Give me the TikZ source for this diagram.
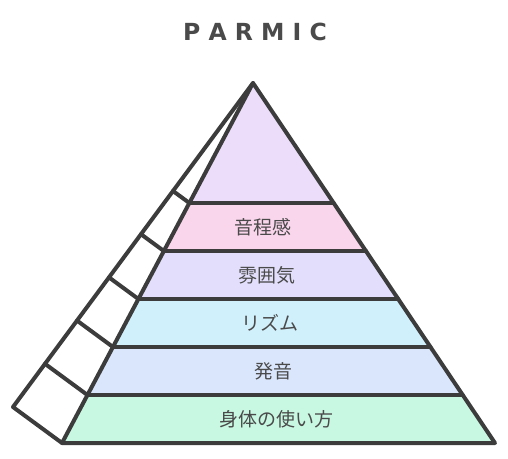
\documentclass[tikz,border=0pt]{standalone}
\usepackage{fontspec}
\usepackage{tikz}
\usetikzlibrary{calc}
\newfontfamily\jpfont{Noto Sans CJK JP}
\newfontfamily\titlefont{DejaVu Sans}
\definecolor{EdgeGray}{HTML}{3C3C3C}
\definecolor{TextGray}{HTML}{4A4A4A}
\definecolor{TopLilac}{HTML}{ECDDFB}
\definecolor{PitchPink}{HTML}{FAD6EC}
\definecolor{MoodLavender}{HTML}{E3DEFB}
\definecolor{RhythmCyan}{HTML}{D0F0FC}
\definecolor{VoiceBlue}{HTML}{DAE6FC}
\definecolor{BodyMint}{HTML}{C8F8E2}

\begin{document}
\begin{tikzpicture}[x=1pt,y=-1pt,
  edge/.style={draw=EdgeGray,line width=4,line cap=round,line join=round},
  layer/.style={text=TextGray,font=\jpfont\fontsize{19}{22}\selectfont,inner sep=0}]
\useasboundingbox (0,0) rectangle (508,458);
% corners of the pyramid
\coordinate (apex) at (253,83);
\coordinate (baseL) at (62,443);
\coordinate (baseR) at (495,443);
\coordinate (back) at (13,407);
\node[text=TextGray,font=\titlefont\bfseries\fontsize{23.5}{26}\selectfont] (title) at (255,32) {P A R M I C};
% fills
\fill[TopLilac] (apex) -- ($(apex)!0.3333!(baseR)$) -- ($(apex)!0.3333!(baseL)$) -- cycle;
\foreach \ta/\tb/\col/\txt/\i in {0.3333/0.4667/PitchPink/音程感/1,
    0.4667/0.6/MoodLavender/雰囲気/2,
    0.6/0.7333/RhythmCyan/リズム/3,
    0.7333/0.8667/VoiceBlue/発音/4,
    0.8667/1/BodyMint/身体の使い方/5} {
  \fill[\col] ($(apex)!\ta!(baseL)$) -- ($(apex)!\ta!(baseR)$)
    -- ($(apex)!\tb!(baseR)$) -- ($(apex)!\tb!(baseL)$) -- cycle;
  \node[layer] (lay\i) at ($($(apex)!{(\ta+\tb)/2}!(baseL)$)!0.5!($(apex)!{(\ta+\tb)/2}!(baseR)$)$) {\txt};
}
% outlines
\draw[edge] (baseL) -- (apex) -- (baseR) -- cycle;
\draw[edge] (apex) -- (back) -- (baseL);
\foreach \t in {0.3333,0.4667,0.6,0.7333,0.8667} {
  \draw[edge] ($(apex)!\t!(baseL)$) -- ($(apex)!\t!(baseR)$);
  \draw[edge] ($(apex)!\t!(baseL)$) -- ($(apex)!\t!(back)$);
}
\end{tikzpicture}
\end{document}
